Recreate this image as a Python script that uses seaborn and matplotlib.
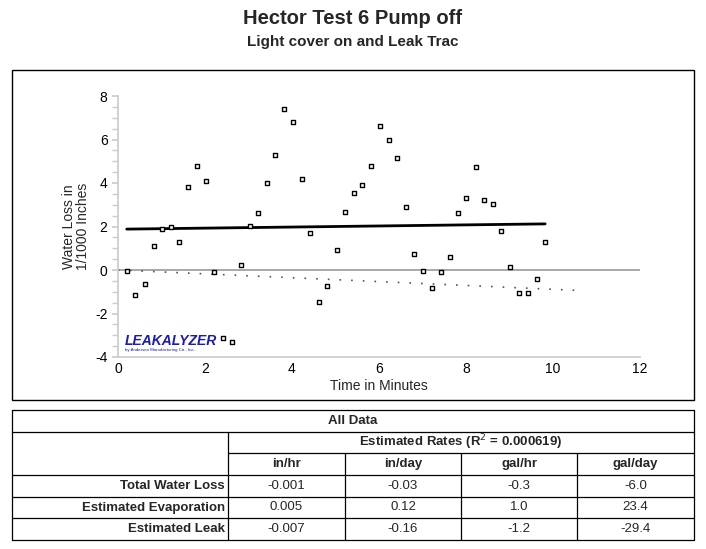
import matplotlib
matplotlib.use("Agg")
import matplotlib.pyplot as plt
import seaborn as sns
import pandas as pd
from matplotlib.patches import Rectangle
from matplotlib.lines import Line2D

# Data
minutes = [0.2, 0.39, 0.62, 0.83, 1.01, 1.22, 1.4, 1.61, 1.82, 2.02, 2.2, 2.41, 2.62,
           2.83, 3.03, 3.22, 3.43, 3.6, 3.82, 4.02, 4.23, 4.41, 4.62, 4.8, 5.03, 5.22,
           5.43, 5.6, 5.82, 6.02, 6.23, 6.41, 6.62, 6.8, 7.01, 7.22, 7.43, 7.63, 7.82,
           8.0, 8.23, 8.41, 8.62, 8.8, 9.0, 9.22, 9.43, 9.63, 9.82]
water_loss = [-0.05, -1.15, -0.65, 1.1, 1.88, 1.98, 1.3, 3.82, 4.78, 4.1, -0.1, -3.12,
              -3.3, 0.25, 2.04, 2.6, 4.0, 5.27, 7.4, 6.8, 4.2, 1.7, -1.45, -0.75, 0.93,
              2.66, 3.54, 3.92, 4.8, 6.62, 6.0, 5.15, 2.9, 0.74, -0.05, -0.82, -0.1, 0.6,
              2.6, 3.3, 4.75, 3.22, 3.04, 1.8, 0.15, -1.05, -1.05, -0.42, 1.3]
fit_x = [0.2, 9.82]
fit_y = [1.88, 2.12]
evap_x = [0.0, 10.7]
evap_y = [0.0, -0.95]

col_headers = ["in/hr", "in/day", "gal/hr", "gal/day"]
row_labels = ["Total Water Loss", "Estimated Evaporation", "Estimated Leak"]
rates = [["-0.001", "-0.03", "-0.3", "-6.0"],
         ["0.005", "0.12", "1.0", "23.4"],
         ["-0.007", "-0.16", "-1.2", "-29.4"]]

sns.set_theme(style="white")
plt.rcParams['font.family'] = ['Liberation Sans', 'DejaVu Sans']
plt.rcParams['axes.unicode_minus'] = False

W, H = 706, 549
fig = plt.figure(figsize=(W / 100, H / 100), dpi=100)

def fx(px):
    return px / W

def fy(py):
    return 1 - py / H

fig.text(0.5, fy(18), "Hector Test 6 Pump off", ha="center", va="center",
         fontsize=14.5, fontweight="bold")
fig.text(0.5, fy(42), "Light cover on and Leak Trac", ha="center", va="center",
         fontsize=11, fontweight="bold")

# outer frame of chart
fig.patches.append(Rectangle((fx(12), fy(400)), fx(694) - fx(12), fy(70) - fy(400),
                             transform=fig.transFigure, fill=False, lw=1, ec="black"))

ax = fig.add_axes([fx(118), fy(357), fx(640) - fx(118), fy(96) - fy(357)])
df = pd.DataFrame({"t": minutes, "loss": water_loss})
ax.axhline(0, color="#999999", lw=1.2, zorder=1)
sns.scatterplot(data=df, x="t", y="loss", ax=ax, marker="s", s=12,
                facecolor="white", edgecolor="black", linewidth=1, zorder=3)
sns.lineplot(x=fit_x, y=fit_y, ax=ax, color="black", lw=2, zorder=2)
ax.plot(evap_x, evap_y, color="#555555", lw=1.2, linestyle=(0, (1, 6)), zorder=2)

ax.set_xlim(0, 12)
ax.set_ylim(-4, 8)
ax.set_xticks(range(0, 13, 2))
ax.set_yticks(range(-4, 9, 2))
ax.set_yticks([v / 2 for v in range(-8, 17)], minor=True)
ax.tick_params(axis="both", labelsize=10, colors="black", length=0)
ax.tick_params(axis="y", which="both", direction="out", length=4, color="#cccccc", left=True)
ax.set_xlabel("Time in Minutes", fontsize=10, labelpad=2)
ax.set_ylabel("Water Loss in\n1/1000 Inches", fontsize=10, linespacing=1.0)
for s in ["top", "right"]:
    ax.spines[s].set_visible(False)
for s in ["left", "bottom"]:
    ax.spines[s].set_color("#cccccc")
ax.text(0.15, -3.45, "LEAKALYZER", color="#1a1ab5", fontsize=10, fontweight="bold",
        fontstyle="italic")
ax.text(0.6, -3.5, "TM", color="#1a1ab5", fontsize=3, transform=ax.transData,
        alpha=0) 
ax.text(0.17, -3.72, "by Anderson Manufacturing Co., Inc.", color="#1a1ab5", fontsize=3.2)

# summary table
xs = [12, 228, 345, 461, 577, 694]
ys = [410, 432, 453, 475, 497, 518, 540]

def hline(y, x0, x1):
    fig.add_artist(Line2D([fx(x0), fx(x1)], [fy(y), fy(y)], color="black", lw=0.9))

def vline(x, y0, y1):
    fig.add_artist(Line2D([fx(x), fx(x)], [fy(y0), fy(y1)], color="black", lw=0.9))

for y in [410, 432, 475, 497, 518, 540]:
    hline(y, 12, 694)
hline(453, 228, 694)
vline(12, 410, 540)
vline(694, 410, 540)
vline(228, 432, 540)
for x in xs[2:5]:
    vline(x, 453, 540)

kw = dict(fontsize=9.5, fontweight="bold", va="center")
fig.text(fx(353), fy(421), "All Data", ha="center", **kw)
fig.text(fx(461), fy(442.5), "Estimated Rates (R$^2$ = 0.000619)", ha="center", **kw)
for i, h in enumerate(col_headers):
    fig.text(fx((xs[i + 1] + xs[i + 2]) / 2), fy(464), h, ha="center", **kw)
for r, lab in enumerate(row_labels):
    yc = (ys[r + 3] + ys[r + 4]) / 2
    fig.text(fx(225), fy(yc), lab, ha="right", **kw)
    for i, v in enumerate(rates[r]):
        fig.text(fx((xs[i + 1] + xs[i + 2]) / 2), fy(yc), v, ha="center",
                 fontsize=9.5, va="center")

fig.savefig("out.png", dpi=100)
